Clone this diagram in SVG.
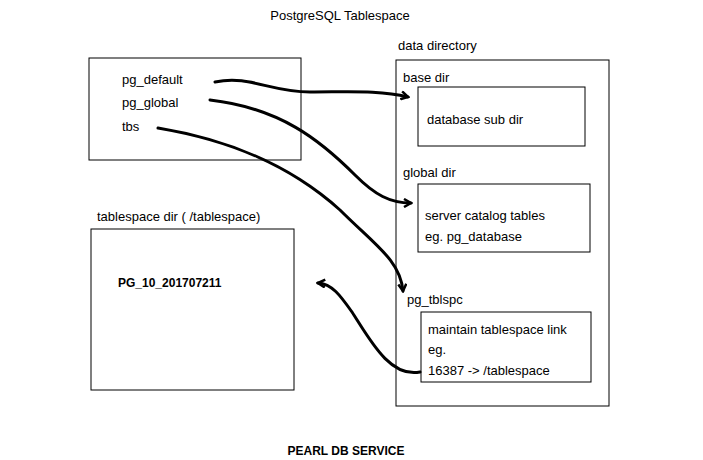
<svg xmlns="http://www.w3.org/2000/svg" width="703" height="460" viewBox="0 0 703 460">
<style>
text{font-family:"Liberation Sans",Arial,sans-serif;font-size:13px;fill:#000}
.b{font-weight:bold;font-size:12px}
.n{fill:none;stroke:#000;stroke-width:1}
.c{fill:none;stroke:#000;stroke-width:3;stroke-linecap:round}
</style>
<defs><marker id="a" markerWidth="10" markerHeight="10" refX="8" refY="5" orient="auto" markerUnits="userSpaceOnUse"><polyline points="1,1 8,5 1,9" fill="none" stroke="#000" stroke-width="2.5"/></marker></defs>
<rect width="703" height="460" fill="#fff"/>
<text x="340" y="20" text-anchor="middle">PostgreSQL Tablespace</text>
<g id="refs"><rect class="n" x="89" y="58" width="212" height="102"/>
<text x="122" y="84">pg_default</text><text x="122" y="107">pg_global</text><text x="122" y="131">tbs</text></g>
<g id="datadir"><text x="398" y="50">data directory</text><rect class="n" x="396" y="60" width="213" height="346"/>
<text x="403" y="82">base dir</text><text x="403" y="177">global dir</text><text x="407" y="304">pg_tblspc</text></g>
<g id="base"><rect class="n" x="418" y="87" width="167" height="59"/><text x="427" y="124">database sub dir</text></g>
<g id="global"><rect class="n" x="418" y="184" width="172" height="68"/><text x="425" y="220">server catalog tables</text><text x="425" y="241">eg. pg_database</text></g>
<g id="tblspc"><rect class="n" x="421" y="312" width="170" height="70"/><text x="428" y="334">maintain tablespace link</text><text x="428" y="354">eg.</text><text x="428" y="375">16387 -&gt; /tablespace</text></g>
<g id="tsdir"><text x="97" y="221">tablespace dir ( /tablespace)</text><rect class="n" x="91" y="229" width="203" height="161"/><text class="b" x="118" y="287">PG_10_201707211</text></g>
<g id="connectors">
<path class="c" marker-end="url(#a)" d="M215,82 C250,75 270,92 310,92 C350,92 380,90 408,97"/>
<path class="c" marker-end="url(#a)" d="M210,100 C280,108 320,140 355,175 C375,195 390,203 411,203"/>
<path class="c" marker-end="url(#a)" d="M158,128 C230,140 290,165 340,210 C375,245 400,260 403,291"/>
<path class="c" marker-end="url(#a)" d="M420,372 C390,378 370,340 352,312 C340,295 332,284 318,283"/>
</g>
<text class="b" x="346" y="455" text-anchor="middle">PEARL DB SERVICE</text>
</svg>
